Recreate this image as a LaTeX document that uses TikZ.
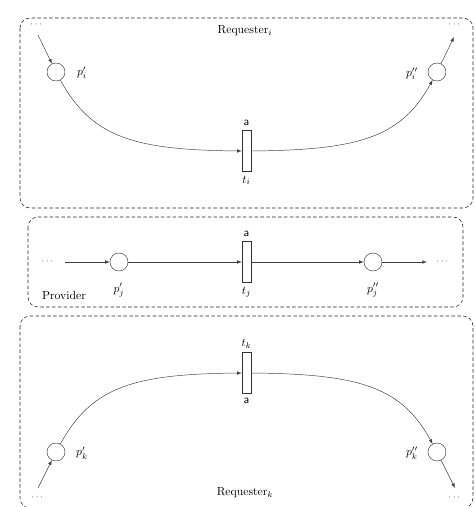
\documentclass[tikz,border=0pt]{standalone}
\usepackage{amsmath,amssymb}
\usepackage{tikz}
\newcommand{\dd}{{\scriptsize$\cdots$}}

\begin{document}
\begin{tikzpicture}[x=0.03cm,y=-0.03cm,
        place/.style={circle,draw=black!80,thin,minimum size=0.54cm,inner sep=0pt},
        trans/.style={rectangle,draw=black!80,thin,minimum width=0.27cm,minimum height=1.23cm,inner sep=0pt},
        region/.style={draw=black!85,line width=0.5pt,dash pattern=on 3pt off 2pt,rounded corners=0.3cm},
        arc/.style={-latex,draw=black!75,thin}]
            \useasboundingbox (0,0) rectangle (474,507);
            % the three boxes
            \draw[region] (20,18) rectangle (473,208);
            \draw[region] (28,217) rectangle (463,307);
            \draw[region] (20,316) rectangle (473,508);

            % Requester i
            \node (ri) at (245,31) {Requester$_i$};
            \node (di1) at (37,25) {\dd};
            \node (di2) at (455,25) {\dd};
            \coordinate (si1) at (38,35);
            \coordinate (ei2) at (454,37);
            \node[place] (pi1) at (56,72) {};
            \node (lpi1) at (82,73) {$p'_i$};
            \node[trans] (ti) at (246.5,151) {};
            \node[above] (ai) at (ti.north) {\textsf{a}};
            \node[below] (lti) at (ti.south) {$t_i$};
            \node[place] (pi2) at (437,72) {};
            \node (lpi2) at (412,74) {$p''_i$};
            \draw[arc] (si1) -- (pi1);
            \draw[arc] (pi1) .. controls (92,138) and (135,150) .. (ti.west);
            \draw[arc] (ti.east) .. controls (358,150) and (401,138) .. (pi2);
            \draw[arc] (pi2) -- (ei2);

            % Provider
            \node (pr) at (64,295) {Provider};
            \node (dj1) at (48,262) {\dd};
            \node (dj2) at (443,262) {\dd};
            \coordinate (sj1) at (65,262);
            \coordinate (ej2) at (427,262);
            \node[place] (pj1) at (119,262) {};
            \node (lpj1) at (119,290) {$p'_j$};
            \node[trans] (tj) at (246.5,262) {};
            \node[above] (aj) at (tj.north) {\textsf{a}};
            \node[below] (ltj) at (tj.south) {$t_j$};
            \node[place] (pj2) at (373,262) {};
            \node (lpj2) at (373,290) {$p''_j$};
            \draw[arc] (sj1) -- (pj1);
            \draw[arc] (pj1) -- (tj);
            \draw[arc] (tj) -- (pj2);
            \draw[arc] (pj2) -- (ej2);

            % Requester k
            \node (rk) at (245,493) {Requester$_k$};
            \node (dk1) at (38,498) {\dd};
            \node (dk2) at (455,498) {\dd};
            \coordinate (sk1) at (38,488);
            \coordinate (ek2) at (455,488);
            \node[place] (pk1) at (56,452) {};
            \node (lpk1) at (82,453) {$p'_k$};
            \node[trans] (tk) at (246.5,373) {};
            \node[above] (ltk) at (tk.north) {$t_k$};
            \node[below] (ak) at (tk.south) {\textsf{a}};
            \node[place] (pk2) at (437,452) {};
            \node (lpk2) at (412,453) {$p''_k$};
            \draw[arc] (sk1) -- (pk1);
            \draw[arc] (pk1) .. controls (92,386) and (135,374) .. (tk.west);
            \draw[arc] (tk.east) .. controls (358,374) and (401,386) .. (pk2);
            \draw[arc] (pk2) -- (ek2);
        \end{tikzpicture}
\end{document}
